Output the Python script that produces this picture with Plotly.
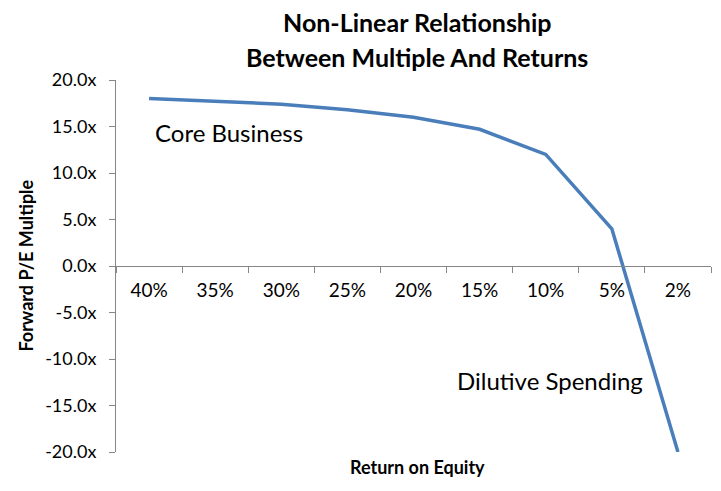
import plotly.graph_objects as go

# data
roe_labels = ['40%', '35%', '30%', '25%', '20%', '15%', '10%', '5%', '2%']
pe_multiple = [18.0, 17.7, 17.4, 16.8, 16.0, 14.7, 12.0, 4.0, -20.0]
y_ticks = [-20, -15, -10, -5, 0, 5, 10, 15, 20]

font_name = 'Lato, Carlito, Calibri, sans-serif'
line_blue = '#4A7EBB'
axis_gray = '#868686'

fig = go.Figure()
fig.add_trace(go.Scatter(
    x=roe_labels, y=pe_multiple, mode='lines',
    line=dict(color=line_blue, width=3.5),
    showlegend=False, hoverinfo='skip'
))

# page has an 8px body margin, so the figure is a bit smaller than the window
fig.update_layout(
    width=713, height=483,
    margin=dict(l=108, r=10, t=72, b=39),
    paper_bgcolor='white', plot_bgcolor='white',
    font=dict(family=font_name, color='#000000'),
    xaxis=dict(
        type='category', anchor='free', position=0.5,
        showline=True, linecolor=axis_gray, linewidth=1,
        ticks='outside', tickson='boundaries', ticklen=6, tickcolor=axis_gray,
        tickfont=dict(size=19), showgrid=False, zeroline=False,
        ticklabelstandoff=7, range=[-0.5, 8.5]
    ),
    yaxis=dict(
        range=[-20, 20], tickvals=y_ticks,
        ticktext=[f'{v:.1f}x' for v in y_ticks],
        showline=True, linecolor=axis_gray, linewidth=1,
        ticks='outside', ticklen=6, tickcolor=axis_gray,
        tickfont=dict(size=18), showgrid=False, zeroline=False,
        ticklabelstandoff=9
    ),
    annotations=[
        dict(text='<b>Non-Linear Relationship</b>', xref='paper', yref='paper',
             x=0.506, y=1.156, xanchor='center', yanchor='middle', showarrow=False,
             font=dict(size=25)),
        dict(text='<b>Between Multiple And Returns</b>', xref='paper', yref='paper',
             x=0.506, y=1.062, xanchor='center', yanchor='middle', showarrow=False,
             font=dict(size=25)),
        dict(text='<b>Forward P/E Multiple</b>', xref='paper', yref='paper',
             x=-0.152, y=0.5, xanchor='center', yanchor='middle', textangle=-90,
             showarrow=False, font=dict(size=18)),
        dict(text='<b>Return on Equity</b>', xref='paper', yref='paper',
             x=0.506, y=-0.040, xanchor='center', yanchor='middle',
             showarrow=False, font=dict(size=18)),
        dict(text='Core Business', xref='paper', yref='paper', x=0.062, y=0.858,
             xanchor='left', yanchor='middle', showarrow=False, font=dict(size=24)),
        dict(text='Dilutive Spending', xref='paper', yref='paper', x=0.570, y=0.191,
             xanchor='left', yanchor='middle', showarrow=False, font=dict(size=24)),
    ]
)

fig.write_html('out.html')
